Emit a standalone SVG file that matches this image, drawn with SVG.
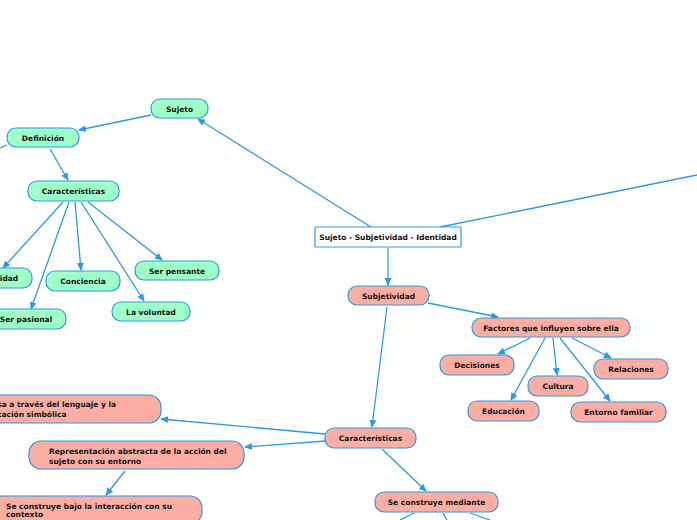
<svg xmlns="http://www.w3.org/2000/svg" width="697" height="520" viewBox="0 0 697 520">
<defs>
<marker id="a" markerWidth="8" markerHeight="8" refX="7" refY="4" orient="auto" markerUnits="userSpaceOnUse"><path d="M0,0.5 L8,4 L0,7.5 Z" fill="#2a9be0"/></marker>
<style>
.g{fill:#9effc8;stroke:#2a9be0;stroke-width:1.2}
.p{fill:#fcaea4;stroke:#2a9be0;stroke-width:1.2}
.w{fill:#fff;stroke:#2a9be0;stroke-width:1.2}
text{font-family:"DejaVu Sans",Verdana,sans-serif;font-size:7.5px;font-weight:bold;fill:#111;text-anchor:middle}
.l{text-anchor:start}
#c line,#c path{stroke:#2a9be0;stroke-width:1.3;fill:none}
</style>
</defs>
<rect width="697" height="520" fill="#fff"/>
<g id="c">
<line x1="371" y1="227" x2="198" y2="119" marker-end="url(#a)"/>
<line x1="440" y1="227" x2="697" y2="175"/>
<line x1="151" y1="115" x2="79" y2="130" marker-end="url(#a)"/>
<line x1="7" y1="145" x2="0" y2="148"/>
<line x1="50" y1="149" x2="68" y2="180" marker-end="url(#a)"/>
<line x1="63" y1="202" x2="3" y2="268" marker-end="url(#a)"/>
<line x1="69" y1="202" x2="31" y2="309" marker-end="url(#a)"/>
<line x1="75" y1="202" x2="81" y2="270" marker-end="url(#a)"/>
<line x1="81" y1="202" x2="144" y2="301" marker-end="url(#a)"/>
<line x1="88" y1="202" x2="162" y2="260" marker-end="url(#a)"/>
<line x1="388" y1="248" x2="388" y2="285" marker-end="url(#a)"/>
<line x1="428" y1="303" x2="498" y2="317" marker-end="url(#a)"/>
<line x1="387" y1="307" x2="372" y2="427" marker-end="url(#a)"/>
<line x1="530" y1="338" x2="498" y2="354" marker-end="url(#a)"/>
<line x1="545" y1="338" x2="511" y2="400" marker-end="url(#a)"/>
<line x1="553" y1="338" x2="557" y2="375" marker-end="url(#a)"/>
<line x1="560" y1="338" x2="610" y2="401" marker-end="url(#a)"/>
<line x1="572" y1="338" x2="611" y2="358" marker-end="url(#a)"/>
<line x1="325" y1="434" x2="161" y2="419" marker-end="url(#a)"/>
<line x1="325" y1="441" x2="245" y2="447" marker-end="url(#a)"/>
<line x1="125" y1="471" x2="106" y2="495" marker-end="url(#a)"/>
<line x1="382" y1="449" x2="426" y2="491" marker-end="url(#a)"/>
<line x1="414" y1="513" x2="400" y2="520"/>
<line x1="443" y1="513" x2="447" y2="520"/>
<line x1="470" y1="513" x2="490" y2="520"/>
</g>
<g id="center"><rect class="w" x="315" y="227" width="146" height="20" rx="1"/><text x="388" y="240">Sujeto - Subjetividad - Identidad</text></g>
<g id="sujeto"><rect class="g" x="151" y="99" width="57" height="19" rx="9"/><text x="179.5" y="111.5">Sujeto</text></g>
<g id="definicion"><rect class="g" x="7" y="128" width="72" height="19" rx="9"/><text x="43" y="140.5">Definición</text></g>
<g id="caracG"><rect class="g" x="28" y="181" width="91" height="20" rx="9"/><text x="73.5" y="194">Características</text></g>
<g id="idad"><rect class="g" x="-40" y="268" width="72" height="20" rx="9"/><text x="-9" y="281">Racionalidad</text></g>
<g id="conciencia"><rect class="g" x="46" y="271" width="74" height="20" rx="9"/><text x="83" y="284">Conciencia</text></g>
<g id="pensante"><rect class="g" x="135" y="261" width="84" height="19" rx="9"/><text x="177" y="273.5">Ser pensante</text></g>
<g id="voluntad"><rect class="g" x="112" y="302" width="78" height="19" rx="9"/><text x="151" y="314.5">La voluntad</text></g>
<g id="pasional"><rect class="g" x="-14" y="309" width="80" height="20" rx="9"/><text x="26" y="322">Ser pasional</text></g>
<g id="subjetividad"><rect class="p" x="348" y="286" width="81" height="19" rx="9"/><text x="388.5" y="298.5">Subjetividad</text></g>
<g id="factores"><rect class="p" x="472" y="318" width="158" height="19" rx="9"/><text x="551" y="330.5">Factores que influyen sobre ella</text></g>
<g id="decisiones"><rect class="p" x="440" y="355" width="74" height="20" rx="9"/><text x="477" y="368">Decisiones</text></g>
<g id="cultura"><rect class="p" x="528" y="376" width="60" height="20" rx="9"/><text x="558" y="389">Cultura</text></g>
<g id="relaciones"><rect class="p" x="594" y="359" width="74" height="20" rx="9"/><text x="631" y="372">Relaciones</text></g>
<g id="educacion"><rect class="p" x="468" y="401" width="71" height="20" rx="9"/><text x="503.5" y="414">Educación</text></g>
<g id="entorno"><rect class="p" x="571" y="402" width="95" height="20" rx="9"/><text x="618.5" y="415">Entorno familiar</text></g>
<g id="caracP"><rect class="p" x="325" y="428" width="91" height="20" rx="9"/><text x="370.5" y="441">Características</text></g>
<g id="expresa"><rect class="p" x="-60" y="395" width="221" height="28" rx="12"/><text class="l" x="-40" y="407">Se expresa a través del lenguaje y la</text><text class="l" x="-40" y="417">representación simbólica</text></g>
<g id="representacion"><rect class="p" x="29" y="441" width="215" height="28" rx="12"/><text class="l" x="49" y="454">Representación abstracta de la acción del</text><text class="l" x="49" y="464">sujeto con su entorno</text></g>
<g id="construyeBajo"><rect class="p" x="-20" y="496" width="222" height="28" rx="12"/><text class="l" x="6" y="509">Se construye bajo la interacción con su</text><text class="l" x="6" y="517">contexto</text></g>
<g id="mediante"><rect class="p" x="375" y="492" width="123" height="20" rx="9"/><text x="436.5" y="505">Se construye mediante</text></g>
</svg>
